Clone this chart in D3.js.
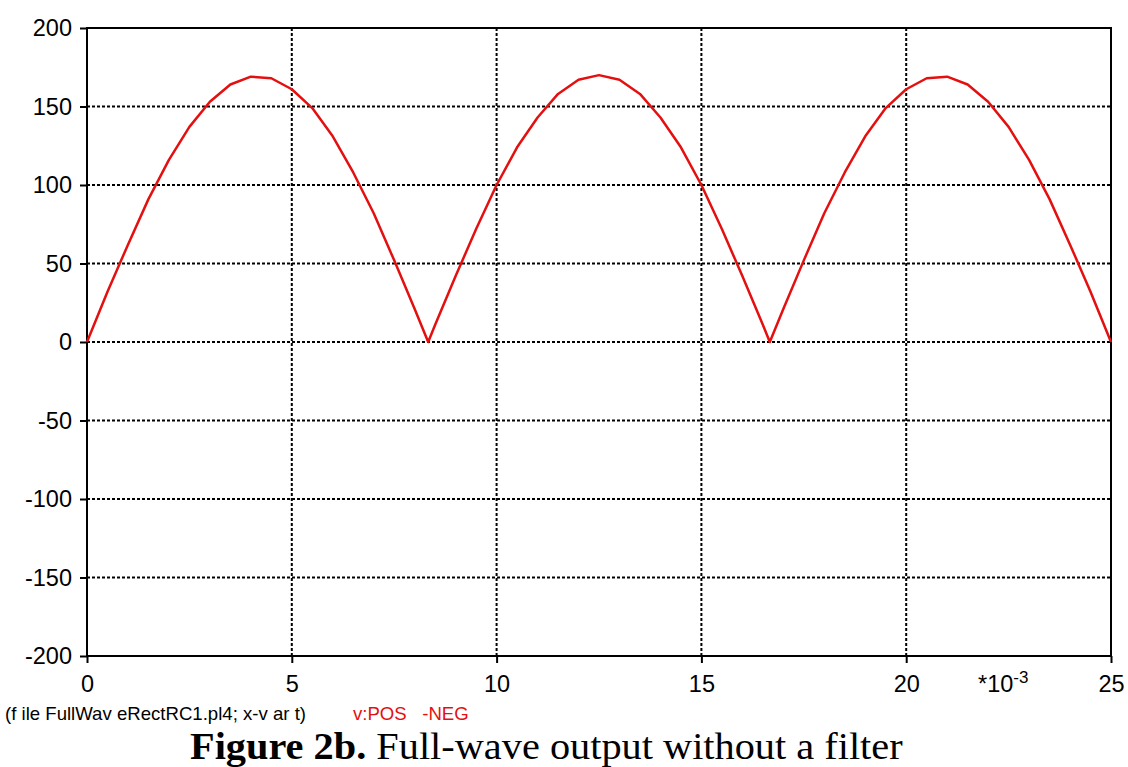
<!DOCTYPE html>
<html><head><meta charset="utf-8">
<script src="https://cdn.jsdelivr.net/npm/d3@7"></script>
<style>
html,body{margin:0;padding:0;background:#fff;}
svg{display:block;}
text{white-space:pre;}
</style></head>
<body>
<svg id="c" width="1128" height="767"></svg>
<script>
// time in ms (x axis is in units of 1e-3 s)
const timeMs = [0,0.5,1,1.5,2,2.5,3,3.5,4,4.5,5,5.5,6,6.5,7,7.5,8,8.33,8.5,9,9.5,10,10.5,11,11.5,12,12.5,13,13.5,14,14.5,15,15.5,16,16.5,16.67,17,17.5,18,18.5,19,19.5,20,20.5,21,21.5,22,22.5,23,23.5,24,24.5,25];
const voltage = [0,32,62,91,116,137,153,164,169,168,161,149,131,108,82,52,21,0,11,42,72,100,124,143,158,167,170,167,158,143,124,100,72,42,11,0,21,52,82,108,131,149,161,168,169,164,153,137,116,91,62,32,0];
const xTicks = [0,5,10,15,20,25];
const yTicks = [200,150,100,50,0,-50,-100,-150,-200];
const fileLabel = "(f ile FullWav eRectRC1.pl4; x-v ar t)";
const seriesLabel = "v:POS   -NEG";
const captionBold = "Figure 2b.";
const captionRest = " Full-wave output without a filter";

const svg = d3.select("#c");
const L=87, R=1111, T=28, B=656;
const x = d3.scaleLinear().domain([0,25]).range([L,R]);
const y = d3.scaleLinear().domain([-200,200]).range([B,T]);
const font = "'Liberation Sans', Arial, sans-serif";

// grid
const g = svg.append("g");
g.selectAll("line.gx").data(xTicks.filter(d=>d>0&&d<25)).join("line")
  .attr("x1",d=>x(d)).attr("x2",d=>x(d)).attr("y1",T).attr("y2",B)
  .attr("stroke","#000").attr("stroke-width",2).attr("stroke-dasharray","3,2");
g.selectAll("line.gy").data(yTicks.filter(d=>d>-200&&d<200)).join("line")
  .attr("x1",L).attr("x2",R).attr("y1",d=>y(d)).attr("y2",d=>y(d))
  .attr("stroke","#000").attr("stroke-width",2).attr("stroke-dasharray","3,2");

// axes
const fmt = d=>String(d);
const yAxis = d3.axisLeft(y).tickValues(yTicks).tickFormat(fmt).tickSize(7).tickPadding(8);
const yg = svg.append("g").attr("transform",`translate(${L},0)`).call(yAxis);
const xAxis = d3.axisBottom(x).tickValues(xTicks).tickFormat(fmt).tickSize(7).tickPadding(10);
const xg = svg.append("g").attr("transform",`translate(0,${B})`).call(xAxis);
[yg,xg].forEach(a=>{
  a.select(".domain").remove();
  a.selectAll(".tick line").attr("stroke","#000").attr("stroke-width",2);
  a.selectAll(".tick text").attr("font-family",font).attr("font-size",23.5).attr("fill","#000");
});
yg.selectAll(".tick text").attr("x",-15);
xg.selectAll(".tick text").attr("dy","0.71em").attr("y",19);

// frame
svg.append("rect").attr("x",L).attr("y",T).attr("width",R-L).attr("height",B-T)
  .attr("fill","none").attr("stroke","#000").attr("stroke-width",2);

// curve
const line = d3.line().x((d,i)=>x(timeMs[i])).y(d=>y(d));
svg.append("path").datum(voltage).attr("d",line)
  .attr("fill","none").attr("stroke","#e41010").attr("stroke-width",2.5).attr("stroke-linejoin","round");

// multiplier
const mt = svg.append("text").attr("x",978).attr("y",692).attr("font-family",font).attr("font-size",23.5).attr("fill","#000");
mt.append("tspan").text("*10");
mt.append("tspan").attr("font-size",17).attr("dy",-9).text("-3");

// file line
const ft = svg.append("text").attr("x",5).attr("y",720).attr("font-family",font).attr("font-size",18.6);
ft.append("tspan").attr("fill","#000").text(fileLabel);
ft.append("tspan").attr("fill","#e41010").attr("x",353).text(seriesLabel);

// caption
const cg = svg.append("g");
const ct = cg.append("text").attr("x",0).attr("y",0).attr("font-family","'Liberation Serif', 'DejaVu Serif', serif").attr("font-size",37).attr("fill","#000");
ct.append("tspan").attr("font-weight","bold").text(captionBold);
ct.append("tspan").text(captionRest);
const w = ct.node().getComputedTextLength();
const sx = (903-190)/w;
cg.attr("transform",`translate(190,759) scale(${sx},1)`);
</script>
</body></html>
